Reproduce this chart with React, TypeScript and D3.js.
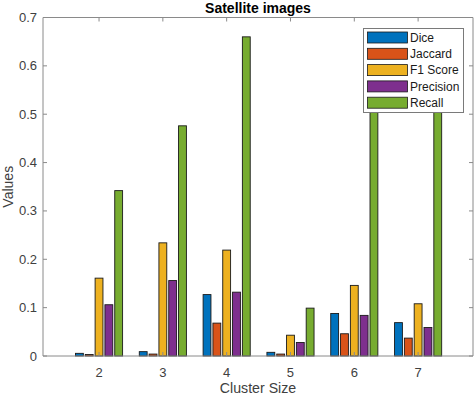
import React from "react";
import * as d3 from "d3";

const categories = [2, 3, 4, 5, 6, 7];
const seriesNames = ["Dice", "Jaccard", "F1 Score", "Precision", "Recall"];
const dice = [0.0055, 0.009, 0.127, 0.0076, 0.088, 0.069];
const jaccard = [0.003, 0.004, 0.068, 0.004, 0.046, 0.037];
const f1 = [0.161, 0.234, 0.219, 0.043, 0.146, 0.108];
const precision = [0.106, 0.156, 0.132, 0.028, 0.084, 0.059];
const recall = [0.342, 0.476, 0.66, 0.099, 0.55, 0.56];
const yTicks = [0, 0.1, 0.2, 0.3, 0.4, 0.5, 0.6, 0.7];
const colors = ["#0072BD", "#D95319", "#EDB120", "#7E2F8E", "#77AC30"];

const W = 474;
const H = 395;
const left = 43;
const right = 473;
const top = 17.5;
const bottom = 356;
const font = "'Liberation Sans', Arial, Helvetica, sans-serif";
const axisColor = "#8a8a8a";
const textColor = "#404040";

export default function App() {
  const series = [dice, jaccard, f1, precision, recall];
  const x = d3.scaleLinear().domain([1.122, 7.86]).range([left, right]);
  const y = d3.scaleLinear().domain([0, 0.7]).range([bottom, top]);
  const nS = series.length;
  const groupW = Math.min(0.8, nS / (nS + 1.5));
  const slot = groupW / nS;
  const barW = slot * 0.8;

  return (
    <svg
      width={W}
      height={H}
      style={{ position: "absolute", left: 0, top: 0, background: "#fff" }}
      fontFamily={font}
    >
      <rect x={0} y={0} width={W} height={H} fill="#fff" />
      {/* bars */}
      {series.map((vals, si) =>
        categories.map((c, ci) => {
          const cx = c + (si - (nS - 1) / 2) * slot;
          const x0 = x(cx - barW / 2);
          const x1 = x(cx + barW / 2);
          const yv = y(vals[ci]);
          return (
            <rect
              key={`${si}-${ci}`}
              x={x0}
              y={yv}
              width={x1 - x0}
              height={bottom - yv}
              fill={colors[si]}
              stroke="#1a1a1a"
              strokeWidth={0.9}
            />
          );
        })
      )}
      {/* axes box */}
      <line x1={left} x2={right} y1={bottom} y2={bottom} stroke={axisColor} strokeWidth={1} />
      <line x1={left} x2={right} y1={top} y2={top} stroke={axisColor} strokeWidth={1} />
      <line x1={left} x2={left} y1={top} y2={bottom} stroke={axisColor} strokeWidth={1} />
      <line x1={right} x2={right} y1={top} y2={bottom} stroke={axisColor} strokeWidth={1} />
      {/* y ticks */}
      {yTicks.map((t) => (
        <g key={t}>
          <line x1={left} x2={left + 4} y1={y(t)} y2={y(t)} stroke={axisColor} />
          <line x1={right - 4} x2={right} y1={y(t)} y2={y(t)} stroke={axisColor} />
          <text
            x={left - 6}
            y={y(t)}
            dy="0.35em"
            textAnchor="end"
            fontSize={13}
            fill={textColor}
          >
            {t === 0 ? "0" : d3.format(".1f")(t)}
          </text>
        </g>
      ))}
      {/* x ticks */}
      {categories.map((c) => (
        <g key={c}>
          <line x1={x(c)} x2={x(c)} y1={top} y2={top + 4} stroke={axisColor} />
          <line x1={x(c)} x2={x(c)} y1={bottom} y2={bottom - 4} stroke={axisColor} />
          <text x={x(c)} y={376.5} textAnchor="middle" fontSize={13} fill={textColor}>
            {c}
          </text>
        </g>
      ))}
      {/* title */}
      <text
        x={(left + right) / 2}
        y={13}
        textAnchor="middle"
        fontSize={14}
        fontWeight="bold"
        fill="#000"
      >
        Satellite images
      </text>
      {/* x label */}
      <text x={(left + right) / 2} y={393} textAnchor="middle" fontSize={14.2} fill={textColor}>
        Cluster Size
      </text>
      {/* y label */}
      <text
        transform={`translate(12.5, ${(top + bottom) / 2}) rotate(-90)`}
        textAnchor="middle"
        fontSize={14}
        fill={textColor}
      >
        Values
      </text>
      {/* legend */}
      <g>
        <rect x={363.5} y={28.5} width={100} height={84} fill="#fff" stroke="#7a7a7a" strokeWidth={1} />
        {seriesNames.map((n, i) => {
          const cy = 37.5 + i * 16.3;
          return (
            <g key={n}>
              <rect
                x={367.5}
                y={cy - 5.5}
                width={40}
                height={11}
                fill={colors[i]}
                stroke="#1a1a1a"
                strokeWidth={0.8}
              />
              <text x={410} y={cy} dy="0.36em" fontSize={12} fill="#1a1a1a">
                {n}
              </text>
            </g>
          );
        })}
      </g>
    </svg>
  );
}
